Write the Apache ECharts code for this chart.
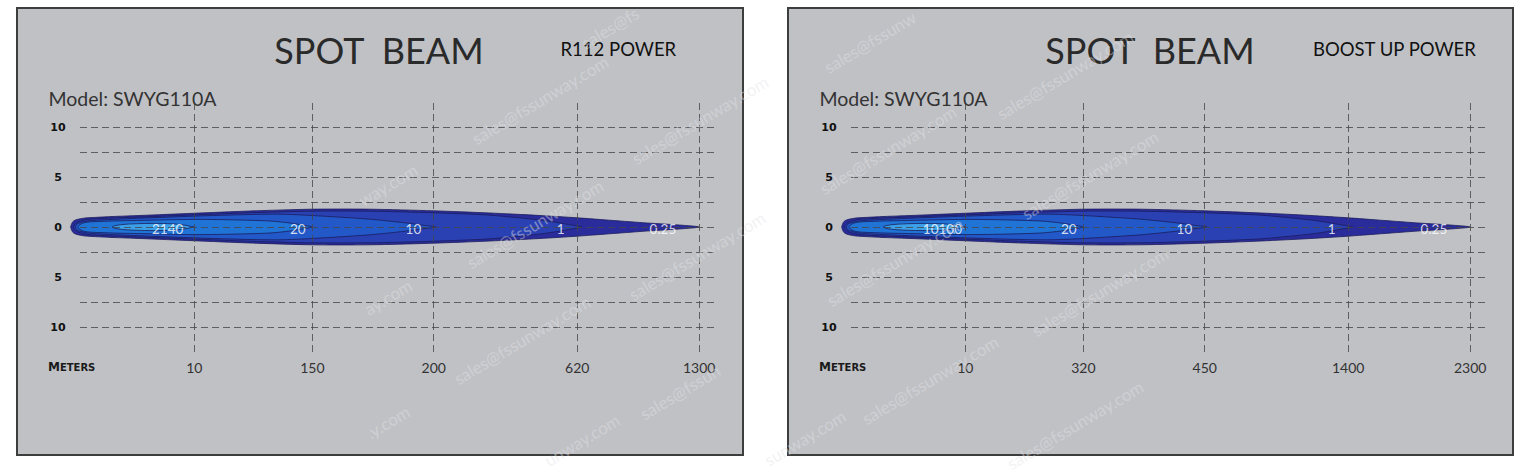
<!DOCTYPE html>
<html>
<head>
<meta charset="utf-8">
<title>Spot Beam</title>
<script src="https://cdn.jsdelivr.net/npm/echarts@6/dist/echarts.min.js"></script>
<style>
  html, body { margin: 0; padding: 0; background: #fff; }
  #chart { width: 1531px; height: 475px; }
</style>
</head>
<body>
<div id="chart"></div>
<script>
// position of the distance ticks along the beam axis (0-100 of plot width)
const xTickPos = [18, 36.6, 55.7, 78.3, 97.5];
const xLabelsR112 = ['10', '150', '200', '620', '1300'];
const xLabelsBoost = ['10', '320', '450', '1400', '2300'];
const yLabelVals = [-10, -5, 0, 5, 10];
const yGridVals = [-10, -7.5, -5, -2.5, 0, 2.5, 5, 7.5, 10];

// lux values written inside the beam
const luxR112 = ['2140', '20', '10', '1', '0.25'];
const luxBoost = ['10100', '20', '10', '1', '0.25'];
const luxPosR112 = [13.8, 34.3, 52.5, 75.7, 91.8];
const luxPosBoost = [14.4, 34.3, 52.5, 75.7, 91.8];

// iso-lux contours, [position, half width], outer (0.25) -> inner
const c025 = [[-1.46, 0], [-1.1, 0.55], [-0.47, 0.75], [0.79, 0.9], [2.05, 0.95], [5.2, 1.05], [9.45, 1.15],
  [17.8, 1.37], [26.77, 1.6], [36.54, 1.78], [45.67, 1.78], [55.59, 1.62], [64.57, 1.4], [72.44, 1.15],
  [78.27, 0.92], [81.89, 0.75], [88.19, 0.45], [97.48, 0]];
const c1 = [[-1.02, 0], [-0.47, 0.45], [0.79, 0.7], [2.05, 0.8], [5.2, 0.9], [9.45, 1.0], [17.8, 1.2],
  [26.77, 1.42], [36.54, 1.58], [45.67, 1.58], [55.59, 1.42], [64.57, 1.18], [72.44, 0.7], [75.12, 0.45],
  [77.48, 0.18], [79.06, 0]];
const c10 = [[-0.71, 0], [-0.47, 0.3], [0.79, 0.55], [2.05, 0.65], [5.2, 0.76], [9.45, 0.88], [17.8, 1.08],
  [26.77, 1.25], [31.5, 1.28], [36.54, 1.15], [45.67, 0.78], [51.18, 0.42], [54.33, 0.15], [56.06, 0]];
const c20 = [[-0.31, 0], [0, 0.25], [0.79, 0.45], [2.05, 0.53], [5.2, 0.6], [9.45, 0.66], [17.8, 0.76],
  [23.62, 0.72], [29.92, 0.6], [33.07, 0.4], [35.43, 0.15], [36.54, 0]];
const cPeak = [[5.04, 0], [5.67, 0.15], [7.09, 0.27], [9.45, 0.34], [12.6, 0.36], [14.96, 0.3],
  [16.54, 0.18], [17.48, 0.05], [17.95, 0]];

const contours = [c025, c1, c10, c20, cPeak];
const contourColors = ['#2b2c9c', '#2a41b4', '#2258c8', '#1f74d6', '#3ba0e8'];

const chart = echarts.init(document.getElementById('chart'), null, { renderer: 'svg' });

function beamItem(params, api) {
  const pts = contours[api.value(0)];
  const top = pts.map(p => api.coord([p[0], p[1]]));
  const bot = pts.filter(p => p[1] > 0).reverse().map(p => api.coord([p[0], -p[1]]));
  return {
    type: 'polygon',
    shape: { points: top.concat(bot), smooth: 0.25 },
    style: { fill: contourColors[api.value(0)], stroke: '#1a1d5c', lineWidth: 0.8 }
  };
}

function axesFor(idx, labels) {
  return {
    x: {
      type: 'value', gridIndex: idx, min: 0, max: 100,
      axisLine: { show: false }, axisTick: { show: false }, splitLine: { show: false },
      axisLabel: {
        customValues: xTickPos,
        formatter: v => labels[xTickPos.indexOf(v)],
        margin: 15, verticalAlign: 'middle',
        fontFamily: 'Lato', fontSize: 14, color: '#333'
      }
    },
    y: {
      type: 'value', gridIndex: idx, min: -12.5, max: 12.5, interval: 2.5,
      axisLine: { show: false }, axisTick: { show: false }, splitLine: { show: false },
      axisLabel: {
        customValues: yLabelVals,
        formatter: v => String(Math.abs(v)),
        align: 'center', margin: 22,
        fontFamily: 'DejaVu Sans', fontWeight: 'bold', fontSize: 11, color: '#111'
      }
    }
  };
}

function seriesFor(idx, lux, luxPos) {
  return [
    {
      type: 'custom', xAxisIndex: idx, yAxisIndex: idx, clip: false,
      renderItem: beamItem,
      data: contours.map((c, i) => [i]),
      silent: true, z: 2
    },
    {
      type: 'line', xAxisIndex: idx, yAxisIndex: idx, data: [], z: 3,
      markLine: {
        silent: true, symbol: ['none', 'none'], label: { show: false },
        lineStyle: { type: [7, 4], color: 'rgba(70,70,72,0.8)', width: 1 },
        data: xTickPos.map(v => ({ xAxis: v })).concat(yGridVals.map(v => ({ yAxis: v })))
      }
    },
    {
      type: 'scatter', xAxisIndex: idx, yAxisIndex: idx, z: 4, symbolSize: 0,
      data: luxPos.map((x, i) => ({ value: [x, -0.18], name: lux[i] })),
      label: {
        show: true, position: 'inside', formatter: '{b}',
        fontFamily: 'Lato', fontSize: 13.5, color: '#fff'
      }
    }
  ];
}

const a0 = axesFor(0, xLabelsR112);
const a1 = axesFor(1, xLabelsBoost);

function panelTexts(dx, tag) {
  return [
    { type: 'text', z: 10, style: { x: 379 + dx, y: 50, text: 'SPOT  BEAM', textAlign: 'center', textVerticalAlign: 'middle',
      font: '36px Lato', fill: '#2a2a2a' } },
    { type: 'text', z: 10, style: { x: tag.x, y: 49, text: tag.text, textAlign: 'left', textVerticalAlign: 'middle',
      font: '18.5px Lato', fill: '#111' } },
    { type: 'text', z: 10, style: { x: 48.5 + dx, y: 98.5, text: 'Model: SWYG110A', textAlign: 'left', textVerticalAlign: 'middle',
      font: '19.5px Lato', fill: '#333' } },
    { type: 'text', z: 10, style: { x: 48 + dx, y: 367, text: '{a|M}{b|ETERS}', textVerticalAlign: 'middle',
      rich: {
        a: { fontFamily: 'DejaVu Sans', fontWeight: 'bold', fontSize: 12, fill: '#1a1a1a' },
        b: { fontFamily: 'DejaVu Sans', fontWeight: 'bold', fontSize: 10, fill: '#1a1a1a' }
      } } }
  ];
}

function watermark(x, y, text) {
  return { type: 'text', z: 20, x: x, y: y, rotation: 0.54, silent: true,
    style: { text: text || 'sales@fssunway.com', textAlign: 'center', textVerticalAlign: 'middle',
      font: '17px Lato', fill: 'rgba(226,226,230,0.45)' } };
}

const option = {
  animation: false,
  backgroundColor: '#fff',
  grid: [
    { left: 80, top: 102, width: 635, height: 250 },
    { left: 851, top: 102, width: 635, height: 250 }
  ],
  xAxis: [a0.x, a1.x],
  yAxis: [a0.y, a1.y],
  graphic: [
    { type: 'rect', z: -10, shape: { x: 17, y: 8, width: 726, height: 447 },
      style: { fill: '#c0c1c5', stroke: '#3d3d3d', lineWidth: 2 } },
    { type: 'rect', z: -10, shape: { x: 788, y: 8, width: 725, height: 447 },
      style: { fill: '#c0c1c5', stroke: '#3d3d3d', lineWidth: 2 } },
    ...panelTexts(0, { x: 560.5, text: 'R112 POWER' }),
    ...panelTexts(771, { x: 1313, text: 'BOOST UP POWER' }),
    watermark(540, 100), watermark(700, 120), watermark(388, 185, 'way.com'),
    watermark(535, 224), watermark(697, 256), watermark(388, 297, 'ay.com'),
    watermark(522, 340), watermark(680, 392, 'sales@fssun'), watermark(388, 422, '.y.com'),
    watermark(582, 440, 'unway.com'), watermark(610, 28, 'sales@fs'),
    watermark(870, 42, 'sales@fssunw'), watermark(1065, 75), watermark(888, 150),
    watermark(1090, 175), watermark(895, 262), watermark(1100, 292), watermark(930, 380),
    watermark(1075, 425), watermark(805, 438, 'sunway.com')
  ],
  series: [...seriesFor(0, luxR112, luxPosR112), ...seriesFor(1, luxBoost, luxPosBoost)]
};

chart.setOption(option);
</script>
</body>
</html>
